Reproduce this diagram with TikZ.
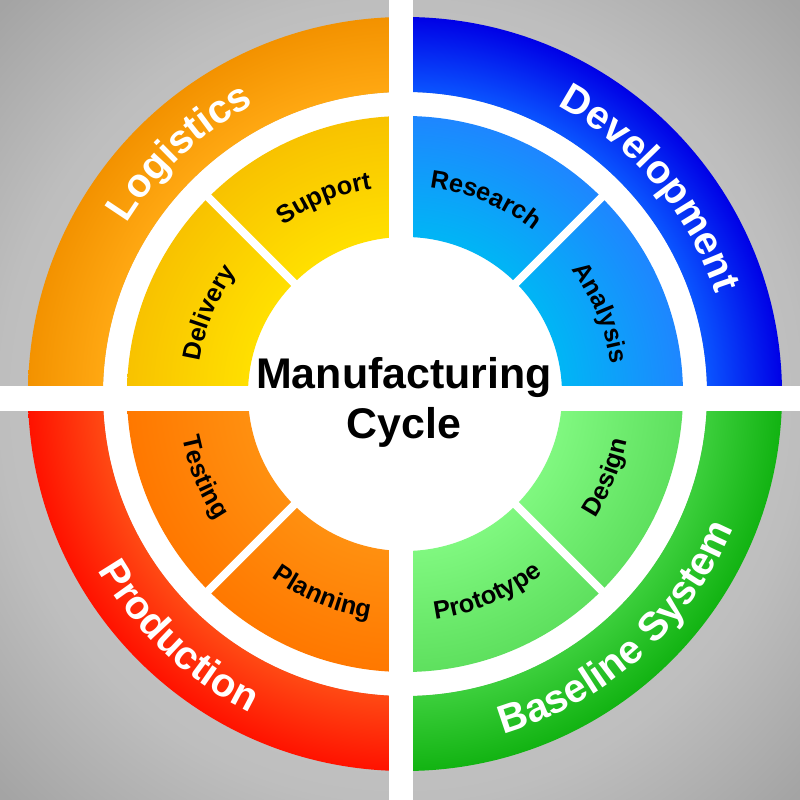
\documentclass[tikz,border=0pt]{standalone}
\usepackage{fontspec}
\setmainfont{Liberation Sans}
\usetikzlibrary{decorations.text}
\definecolor{bglight}{HTML}{D4D4D4}
\definecolor{bgmid}{HTML}{BEBEBE}
\definecolor{bgdark}{HTML}{A4A4A4}
\definecolor{login}{HTML}{FFA812}
\definecolor{logout}{HTML}{F39200}
\definecolor{devin}{HTML}{0A55FF}
\definecolor{devout}{HTML}{0000E6}
\definecolor{basin}{HTML}{3CCF3C}
\definecolor{basout}{HTML}{12B312}
\definecolor{prodin}{HTML}{FF4A14}
\definecolor{prodout}{HTML}{FF1200}
\definecolor{yelin}{HTML}{FFE000}
\definecolor{yelout}{HTML}{F8C200}
\definecolor{ltbin}{HTML}{00B6F5}
\definecolor{ltbout}{HTML}{1E86FF}
\definecolor{lgin}{HTML}{80F880}
\definecolor{lgout}{HTML}{5EE05E}
\definecolor{orin}{HTML}{FF9010}
\definecolor{orout}{HTML}{FF7800}
\colorlet{ringa}{white}
\colorlet{ringb}{white}
\pgfdeclareradialshading{backdrop}{\pgfpoint{0bp}{0bp}}{color(0bp)=(bglight);color(25bp)=(bgmid);color(35bp)=(bgdark);color(50bp)=(bgdark)}
\pgfdeclareradialshading[ringa,ringb]{outerring}{\pgfpoint{0bp}{0bp}}{color(0bp)=(ringa);color(20bp)=(ringa);color(25bp)=(ringb);color(50bp)=(ringb)}
\pgfdeclareradialshading[ringa,ringb]{innerring}{\pgfpoint{0bp}{0bp}}{color(0bp)=(ringa);color(14bp)=(ringa);color(25bp)=(ringb);color(50bp)=(ringb)}

\begin{document}
\begin{tikzpicture}[x=0.01cm,y=0.01cm,
bigtxt/.style={font=\fontsize{12.2}{14.2}\selectfont\bfseries},
ringlbl/.style={decorate,decoration={text along path,text align=center,text={|\fontsize{11.4}{13}\selectfont\bfseries\color{white}|#1}}},
segmlbl/.style={decorate,decoration={text along path,text align=center,text={|\fontsize{7.2}{9}\selectfont\bfseries|#1}}},
gap/.style={white,line width=2.3pt}]
\useasboundingbox (0,0) rectangle (800,800);
\shade[shading=backdrop] (0,0) rectangle (800,800);
\coordinate (c) at (405,406);
\fill[white] (c) circle (302);
% quarters: outer ring and inner ring
\foreach \sx/\sy/\oa/\ob/\ia/\ib in {1/1/devin/devout/ltbin/ltbout,-1/1/login/logout/yelin/yelout,
  -1/-1/prodin/prodout/orin/orout,1/-1/basin/basout/lgin/lgout}{
  \begin{scope}
    \clip (c) rectangle ++(400*\sx,400*\sy);
    \colorlet{ringa}{\oa}\colorlet{ringb}{\ob}
    \shade[shading=outerring,even odd rule] (c) circle (377) (c) circle (302);
    \colorlet{ringa}{\ia}\colorlet{ringb}{\ib}
    \shade[shading=innerring,even odd rule] (c) circle (278) (c) circle (157);
  \end{scope}
}
% white cross and dividers
\fill[white] (389,0) rectangle (413,800);
\fill[white] (0,389) rectangle (800,414);
\foreach \a in {45,135,225,315} \draw[gap] ([shift={(\a:150)}]c) -- ([shift={(\a:285)}]c);
% outer labels
\path[ringlbl=Logistics] ([shift={(178:326)}]c) arc[start angle=178,end angle=88,radius=326];
\path[ringlbl=Development] ([shift={(85:326)}]c) arc[start angle=85,end angle=-5,radius=326];
\path[ringlbl=Baseline System] ([shift={(-93:354)}]c) arc[start angle=-93,end angle=-3,radius=354];
\path[ringlbl=Production] ([shift={(-178:354)}]c) arc[start angle=-178,end angle=-88,radius=354];
% inner labels
\path[segmlbl=Support] ([shift={(152.5:208)}]c) arc[start angle=152.5,end angle=72.5,radius=208];
\path[segmlbl=Delivery] ([shift={(197.5:208)}]c) arc[start angle=197.5,end angle=117.5,radius=208];
\path[segmlbl=Research] ([shift={(107.5:208)}]c) arc[start angle=107.5,end angle=27.5,radius=208];
\path[segmlbl=Analysis] ([shift={(62.5:208)}]c) arc[start angle=62.5,end angle=-17.5,radius=208];
\path[segmlbl=Design] ([shift={(-62.5:227)}]c) arc[start angle=-62.5,end angle=17.5,radius=227];
\path[segmlbl=Prototype] ([shift={(-107.5:227)}]c) arc[start angle=-107.5,end angle=-27.5,radius=227];
\path[segmlbl=Planning] ([shift={(-152.5:227)}]c) arc[start angle=-152.5,end angle=-72.5,radius=227];
\path[segmlbl=Testing] ([shift={(-197.5:227)}]c) arc[start angle=-197.5,end angle=-117.5,radius=227];
\node[bigtxt,align=center] (title) at (404,398) {Manufacturing\\Cycle};
\end{tikzpicture}
\end{document}
